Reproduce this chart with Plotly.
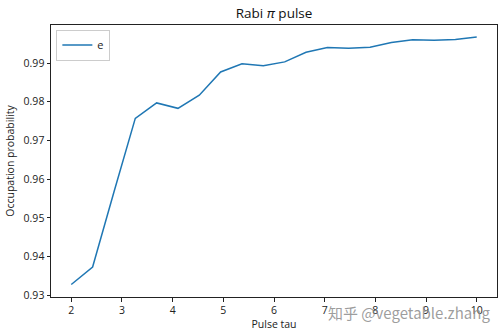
import numpy as np
import plotly.graph_objects as go

# Data
pulse_tau = [2.0, 2.421, 2.842, 3.263, 3.684, 4.105, 4.526, 4.947, 5.368, 5.789,
             6.211, 6.632, 7.053, 7.474, 7.895, 8.316, 8.737, 9.158, 9.579, 10.0]
occupation_e = [0.9328, 0.9373, 0.9567, 0.9757, 0.9797, 0.9783, 0.9817, 0.9877, 0.9898, 0.9893,
                0.9903, 0.9928, 0.9940, 0.9938, 0.9941, 0.9953, 0.9960, 0.9959, 0.9961, 0.9967]
x_ticks = [2, 3, 4, 5, 6, 7, 8, 9, 10]
y_ticks = [0.93, 0.94, 0.95, 0.96, 0.97, 0.98, 0.99]

W, H = 504, 335
L, R, T, B = 50.7, 6.7, 25, 38.3
FONT = "Open Sans"

fig = go.Figure()
fig.add_trace(go.Scatter(x=pulse_tau, y=occupation_e, mode="lines", name="e",
                         line=dict(color="#1f77b4", width=1.5)))

axis_common = dict(showgrid=False, zeroline=False, showline=True, linecolor="#222",
                   linewidth=1, mirror=True, ticks="outside", ticklen=3.5, tickwidth=0.8,
                   tickcolor="#222", tickfont=dict(size=10.5, color="#222", family=FONT))

fig.update_layout(
    width=W, height=H,
    margin=dict(l=L, r=R, t=T, b=B, pad=0),
    paper_bgcolor="white", plot_bgcolor="white",
    font=dict(family=FONT, size=10, color="#222"),
    title=dict(text="Rabi <i>π</i> pulse", x=0.5, xref="paper", xanchor="center",
               y=1 - 13 / H, yref="container", yanchor="middle",
               font=dict(size=13.5, color="#111", family=FONT)),
    xaxis=dict(range=[1.6, 10.4], tickvals=x_ticks, ticktext=[str(v) for v in x_ticks],
               title=dict(text="Pulse tau", standoff=4, font=dict(size=10.5, family=FONT)),
               **axis_common),
    yaxis=dict(range=[0.92956, 0.99983], tickvals=y_ticks,
               ticktext=[f"{v:.2f}" for v in y_ticks],
               title=dict(text="Occupation probability", standoff=6, font=dict(size=10.5, family=FONT)),
               **axis_common),
    showlegend=True,
    legend=dict(x=0.012, y=0.983, xanchor="left", yanchor="top",
                bordercolor="#ccc", borderwidth=1, bgcolor="rgba(255,255,255,0.8)",
                font=dict(size=11, family=FONT), itemwidth=30,
                tracegroupgap=0),
)

fig.add_annotation(text="知乎 @vegetable.zhang", xref="paper", yref="paper",
                   x=(492 - L) / (W - L - R), y=(H - B - 312) / (H - T - B),
                   xanchor="right", yanchor="middle", showarrow=False,
                   font=dict(size=15, color="rgba(140,140,140,0.85)", family="Noto Sans CJK SC"))

fig.write_html("out.html")
